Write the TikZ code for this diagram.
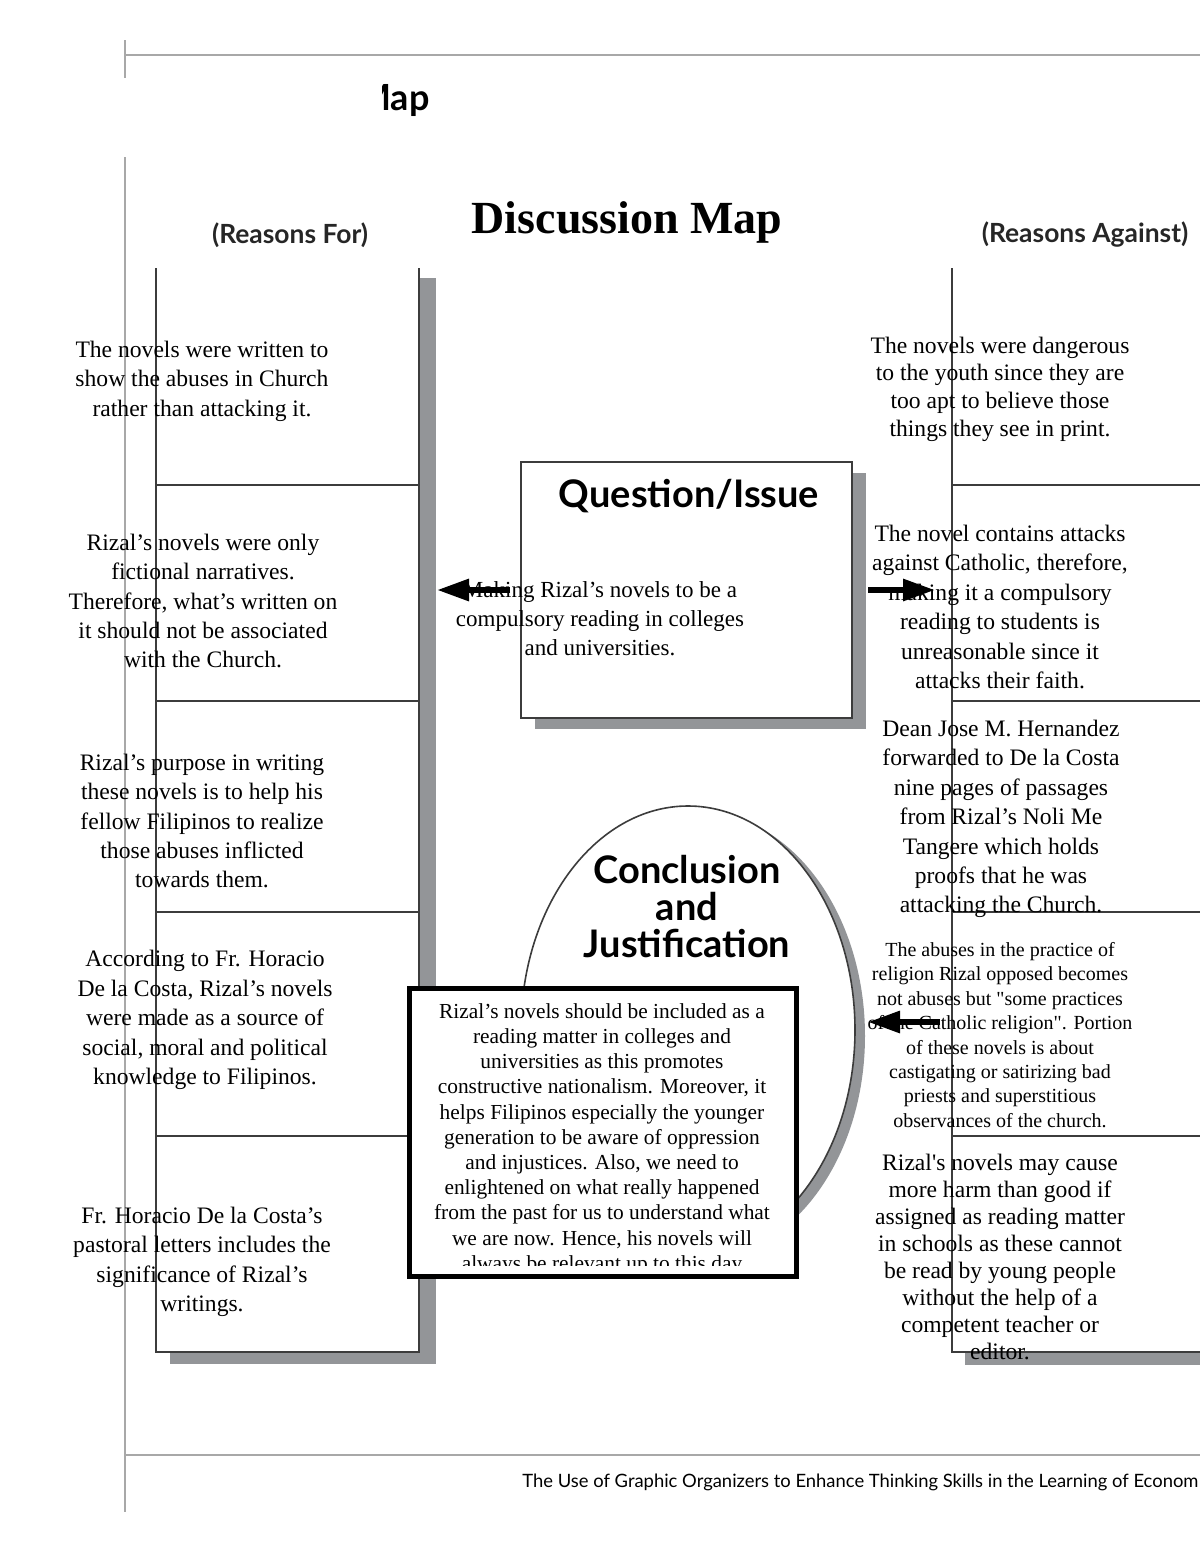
\documentclass[tikz,border=0pt]{standalone}
\usepackage{fontspec}
\setmainfont{Liberation Serif}
\newfontfamily\gill{Lato}
\usetikzlibrary{arrows.meta,positioning,shapes.geometric,shadows}

\definecolor{shadowgray}{HTML}{939598}
\definecolor{rule}{HTML}{3C3C3C}
\definecolor{margin}{HTML}{A8A8A8}

\tikzstyle{reason} = [align=center, inner sep=0pt, font=\fontsize{11.8}{14.7}\selectfont]
\tikzstyle{tight} = [align=center, inner sep=0pt, font=\fontsize{10}{12.2}\selectfont]
\tikzstyle{head} = [align=center, inner sep=0pt, font=\gill\bfseries\fontsize{19}{18.5}\selectfont]
\tikzstyle{side} = [inner sep=0pt, text=black!85, font=\gill\bfseries\fontsize{13.2}{15}\selectfont]
\tikzstyle{fat} = [line width=3pt, -{Triangle[length=16pt,width=10.5pt]}]
\tikzstyle{col} = [draw=rule, line width=1pt]

\begin{document}
\begin{tikzpicture}[x=0.5pt, y=-0.5pt]
\useasboundingbox (0,0) rectangle (1200,1553);
%page margins
\draw[margin, line width=1pt] (125,40) -- (125,78);
\draw[margin, line width=1pt] (125,157) -- (125,1512);
\draw[margin, line width=1pt] (125,55) -- (1200,55);
\draw[margin, line width=1pt] (125,1455) -- (1200,1455);
\begin{scope}
    \clip (382,75) rectangle (445,125);
    \node[head, font=\gill\bfseries\fontsize{18}{20}\selectfont, anchor=east] (oldtitle) at (430,100) {Map};
\end{scope}
\node[anchor=west, inner sep=0pt, font=\gill\fontsize{9.2}{11}\selectfont] (footer) at (522,1482)
    {The Use of Graphic Organizers to Enhance Thinking Skills in the Learning of Econom};

%titles
\node[inner sep=0pt, font=\bfseries\fontsize{23}{26}\selectfont] (title) at (627,222) {Discussion Map};
\node[side] (forhead) at (290,235) {(Reasons For)};
\node[side] (againsthead) at (1085,235) {(Reasons Against)};

%begin left column
\fill[shadowgray] (419,278) rectangle (436,1364);
\fill[shadowgray] (170,1352) rectangle (436,1364);
\draw[col] (156,268) -- (156,1352) -- (419,1352) -- (419,268);
\foreach \y in {485,701,912,1136}
    \draw[col] (156,\y) -- (419,\y);
%end left column

%begin right column
\fill[shadowgray] (965,1352) rectangle (1200,1365);
\draw[col] (952,268) -- (952,1352) -- (1200,1352);
\foreach \y in {485,701,912,1136}
    \draw[col] (952,\y) -- (1200,\y);
%end right column

%reasons for
\node[reason] (forA) at (202,381) {The novels were written to\\show the abuses in Church\\rather than attacking it.};
\node[reason] (forB) at (203,601) {Rizal’s novels were only\\fictional narratives.\\Therefore, what’s written on\\it should not be associated\\with the Church.};
\node[reason] (forC) at (202,821) {Rizal’s purpose in writing\\these novels is to help his\\fellow Filipinos to realize\\those abuses inflicted\\towards them.};
\node[reason] (forD) at (205,1020) {According to Fr. Horacio\\De la Costa, Rizal’s novels\\were made as a source of\\social, moral and political\\knowledge to Filipinos.};
\node[reason] (forE) at (202,1262) {Fr. Horacio De la Costa’s\\pastoral letters includes the\\significance of Rizal’s\\writings.};

%reasons against
\node[reason, font=\fontsize{11.8}{13.85}\selectfont] (agA) at (1000,389) {The novels were dangerous\\to the youth since they are\\too apt to believe those\\things they see in print.};
\node[reason] (agB) at (1000,607) {The novel contains attacks\\against Catholic, therefore,\\making it a compulsory\\reading to students is\\unreasonable since it\\attacks their faith.};
\node[reason] (agC) at (1001,819) {Dean Jose M. Hernandez\\forwarded to De la Costa\\nine pages of passages\\from Rizal’s Noli Me\\Tangere which holds\\proofs that he was\\attacking the Church.};
\node[tight] (agD) at (1000,1035) {The abuses in the practice of\\religion Rizal opposed becomes\\not abuses but \textquotedbl some practices\\of the Catholic religion\textquotedbl. Portion\\of these novels is about\\castigating or satirizing bad\\priests and superstitious\\observances of the church.};
\node[reason, font=\fontsize{11.8}{13.5}\selectfont] (agE) at (1000,1257) {Rizal\textquotesingle s novels may cause\\more harm than good if\\assigned as reading matter\\in schools as these cannot\\be read by young people\\without the help of a\\competent teacher or\\editor.};

%question
\node[draw=rule, line width=0.8pt, fill=white, minimum width=165.5pt, minimum height=128pt, inner sep=0pt,
    drop shadow={shadow xshift=7pt, shadow yshift=-5.5pt, fill=shadowgray, opacity=1}] (q) at (686.5,590) {};
\node[head] (qhead) at (689,496) {Question/Issue};
\node[reason, font=\fontsize{11.5}{14.5}\selectfont] (qtext) at (600,619) {Making Rizal’s novels to be a\\compulsory reading in colleges\\and universities.};

%conclusion
\node[ellipse, draw=rule, line width=0.8pt, fill=white, minimum width=167pt, minimum height=224pt, inner sep=0pt,
    drop shadow={shadow xshift=5pt, shadow yshift=-3pt, fill=shadowgray, opacity=1}] (c) at (688,1030) {};
\node[head] (chead) at (687,907) {Conclusion\\and\\Justification};
\node[draw=black, line width=2.5pt, fill=white, minimum width=193.5pt, minimum height=144pt, inner sep=0pt] (cbox) at (602.5,1132) {};
\begin{scope}
    \clip (411,990) rectangle (794,1265);
    \node[tight, font=\fontsize{10.7}{12.6}\selectfont, anchor=north] (ctext) at (602,1003) {Rizal’s novels should be included as a\\reading matter in colleges and\\universities as this promotes\\constructive nationalism. Moreover, it\\helps Filipinos especially the younger\\generation to be aware of oppression\\and injustices. Also, we need to\\enlightened on what really happened\\from the past for us to understand what\\we are now. Hence, his novels will\\always be relevant up to this day};
\end{scope}

%arrows
\coordinate (leftend) at (437,590);
\coordinate (rightend) at (935,590);
\coordinate (lowstart) at (940,1022);
\draw[fat] (q.west -| 510,0) -- (leftend);
\draw[fat] (q.east -| 868,0) -- (rightend);
\draw[fat] (lowstart) -- (lowstart -| 868,0);
\end{tikzpicture}
\end{document}
